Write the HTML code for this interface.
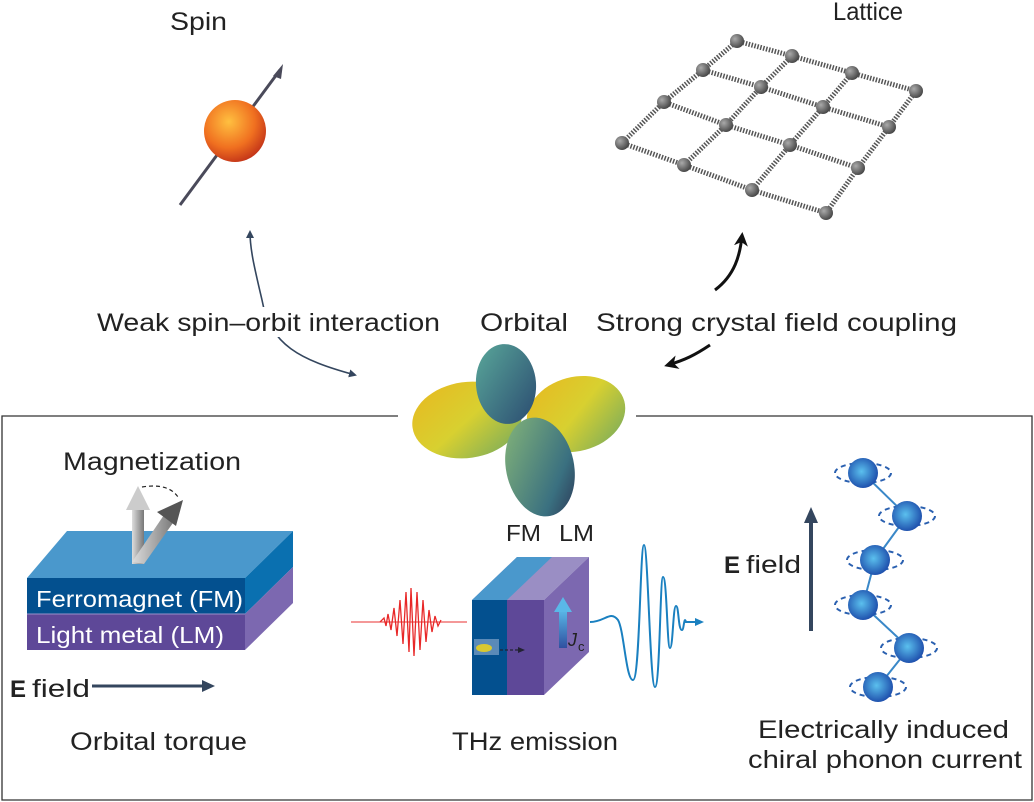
<!DOCTYPE html>
<html><head><meta charset="utf-8"><style>
html,body{margin:0;padding:0;background:#fff;}
svg{display:block;}
text{font-family:"Liberation Sans",sans-serif;fill:#222;}
</style></head><body>
<svg width="1034" height="802" viewBox="0 0 1034 802" xmlns="http://www.w3.org/2000/svg">
<defs>
<radialGradient id="sph" cx="0.4" cy="0.35" r="0.7"><stop offset="0" stop-color="#ffc040"/><stop offset="0.6" stop-color="#f07020"/><stop offset="1" stop-color="#c03018"/></radialGradient>
<radialGradient id="gb" cx="0.35" cy="0.35" r="0.7"><stop offset="0" stop-color="#aaa"/><stop offset="1" stop-color="#444"/></radialGradient>
<radialGradient id="bb" cx="0.45" cy="0.45" r="0.6"><stop offset="0" stop-color="#5bc0ee"/><stop offset="1" stop-color="#1a48a8"/></radialGradient>
<linearGradient id="ylob" x1="0" y1="0" x2="1" y2="1"><stop offset="0" stop-color="#e8b820"/><stop offset="0.5" stop-color="#d8d030"/><stop offset="1" stop-color="#70a860"/></linearGradient>
<linearGradient id="tlob" x1="0" y1="0" x2="1" y2="1"><stop offset="0" stop-color="#5aa89a"/><stop offset="1" stop-color="#2a4a70"/></linearGradient>
<linearGradient id="glob" x1="0" y1="0" x2="1" y2="1"><stop offset="0" stop-color="#88b878"/><stop offset="0.7" stop-color="#3a7080"/><stop offset="1" stop-color="#2a3050"/></linearGradient>
<linearGradient id="garr" x1="0" y1="0" x2="1" y2="0"><stop offset="0" stop-color="#ddd"/><stop offset="1" stop-color="#777"/></linearGradient>
<linearGradient id="jc" x1="0" y1="0" x2="0" y2="1"><stop offset="0" stop-color="#5ab8e8"/><stop offset="1" stop-color="#3050a0"/></linearGradient>
<marker id="ah" markerWidth="8" markerHeight="8" refX="6" refY="4" orient="auto-start-reverse" markerUnits="userSpaceOnUse"><path d="M0,0 L8,4 L0,8 Z" fill="#34465e"/></marker>
<marker id="ahb" markerWidth="14" markerHeight="14" refX="10" refY="7" orient="auto" markerUnits="userSpaceOnUse"><path d="M0,0 L14,7 L0,14 L4,7 Z" fill="#111"/></marker>
</defs>

<path d="M398,416 L2,416 L2,800 L1032,800 L1032,416 L636,416" fill="none" stroke="#333" stroke-width="1.3"/>

<!-- Spin -->
<text x="170" y="30" font-size="25" textLength="57" lengthAdjust="spacingAndGlyphs">Spin</text>
<line x1="180" y1="205" x2="280" y2="70" stroke="#4a4a5a" stroke-width="3"/>
<path d="M283,64 L273,76 L281,79 Z" fill="#4a4a5a"/>
<circle cx="235" cy="131" r="31" fill="url(#sph)"/>

<!-- Lattice -->
<text x="833" y="20" font-size="25" textLength="70" lengthAdjust="spacingAndGlyphs">Lattice</text>
<g stroke="#555" stroke-width="5" stroke-dasharray="1.5 1.5" fill="none">
<polyline points="737,41 792,56 852,73 916,91"/>
<polyline points="703,70 761,87 823,107 889,127"/>
<polyline points="664,102 726,125 790,145 858,168"/>
<polyline points="622,143 684,165 752,190 826,213"/>
<polyline points="737,41 703,70 664,102 622,143"/>
<polyline points="792,56 761,87 726,125 684,165"/>
<polyline points="852,73 823,107 790,145 752,190"/>
<polyline points="916,91 889,127 858,168 826,213"/>
</g>
<g fill="url(#gb)">
<circle cx="737" cy="41" r="7"/><circle cx="792" cy="56" r="7"/><circle cx="852" cy="73" r="7"/><circle cx="916" cy="91" r="7"/>
<circle cx="703" cy="70" r="7"/><circle cx="761" cy="87" r="7"/><circle cx="823" cy="107" r="7"/><circle cx="889" cy="127" r="7"/>
<circle cx="664" cy="102" r="7"/><circle cx="726" cy="125" r="7"/><circle cx="790" cy="145" r="7"/><circle cx="858" cy="168" r="7"/>
<circle cx="622" cy="143" r="7"/><circle cx="684" cy="165" r="7"/><circle cx="752" cy="190" r="7"/><circle cx="826" cy="213" r="7"/>
</g>

<path d="M355,375 C300,360 270,345 262,300 C255,270 250,250 250,232" fill="none" stroke="#34465e" stroke-width="1.6" marker-start="url(#ah)" marker-end="url(#ah)"/>
<rect x="95" y="307" width="350" height="30" fill="#fff"/>
<text x="97" y="331" font-size="25" textLength="343" lengthAdjust="spacingAndGlyphs">Weak spin–orbit interaction</text>
<text x="480" y="331" font-size="25" textLength="88" lengthAdjust="spacingAndGlyphs">Orbital</text>
<text x="596" y="331" font-size="25" textLength="361" lengthAdjust="spacingAndGlyphs">Strong crystal field coupling</text>

<path d="M715,290 C735,275 740,255 742,236" fill="none" stroke="#111" stroke-width="3" marker-end="url(#ahb)"/>
<path d="M710,345 C695,355 685,360 668,365" fill="none" stroke="#111" stroke-width="3" marker-end="url(#ahb)"/>

<!-- orbital -->
<ellipse cx="467" cy="420" rx="55" ry="38" transform="rotate(-8 467 420)" fill="url(#ylob)"/>
<ellipse cx="576" cy="414" rx="50" ry="37" transform="rotate(-15 576 414)" fill="url(#ylob)"/>
<ellipse cx="506" cy="384" rx="30" ry="40" transform="rotate(-5 506 384)" fill="url(#tlob)"/>
<ellipse cx="540" cy="467" rx="34" ry="50" transform="rotate(-12 540 467)" fill="url(#glob)"/>

<text x="506" y="541" font-size="23" textLength="35" lengthAdjust="spacingAndGlyphs">FM</text>
<text x="559" y="541" font-size="23" textLength="35" lengthAdjust="spacingAndGlyphs">LM</text>

<!-- Magnetization slab -->
<text x="63" y="470" font-size="25" textLength="178" lengthAdjust="spacingAndGlyphs">Magnetization</text>
<polygon points="27,578 67,531 293,531 245,578" fill="#4a98cc"/>
<polygon points="245,578 293,531 293,567 245,614" fill="#0a70b0"/>
<polygon points="245,614 293,567 293,603 245,650" fill="#7c68b0"/>
<rect x="27" y="578" width="218" height="36" fill="#03508f"/>
<rect x="27" y="614" width="218" height="36" fill="#5e4898"/>
<line x1="27" y1="614" x2="245" y2="614" stroke="#9a90c8" stroke-width="1"/>
<text x="36" y="607" font-size="23" style="fill:#fff" textLength="207" lengthAdjust="spacingAndGlyphs">Ferromagnet (FM)</text>
<text x="36" y="643" font-size="23" style="fill:#fff" textLength="188" lengthAdjust="spacingAndGlyphs">Light metal (LM)</text>
<rect x="132" y="508" width="12" height="56" fill="url(#garr)"/>
<polygon points="138,486 126,510 150,510" fill="#ccc"/>
<polygon points="132,562 144,564 175,520 166,512" fill="url(#garr)"/>
<polygon points="183,500 157,512 176,526" fill="#555"/>
<path d="M142,487 C160,484 172,488 178,497" fill="none" stroke="#222" stroke-width="1.2" stroke-dasharray="4 3"/>
<text x="10" y="697" font-size="24" font-weight="bold">E</text>
<text x="32" y="697" font-size="25" textLength="58" lengthAdjust="spacingAndGlyphs">field</text>
<line x1="92" y1="686" x2="205" y2="686" stroke="#34465e" stroke-width="3"/>
<polygon points="215,686 202,680 202,692" fill="#34465e"/>
<text x="70" y="750" font-size="25" textLength="177" lengthAdjust="spacingAndGlyphs">Orbital torque</text>

<!-- THz -->
<line x1="351" y1="622" x2="467" y2="622" stroke="#e83030" stroke-width="1"/>
<path d="M380,622 L384,618 L386,626 L388,614 L391,630 L394,608 L397,636 L400,600 L403,644 L406,592 L409,652 L411,588 L414,656 L417,592 L420,650 L423,600 L426,642 L429,610 L432,632 L435,616 L438,626 L441,620" fill="none" stroke="#e82828" stroke-width="1.3"/>
<polygon points="472,600 517,557 589,557 544,600" fill="#9a8ec4"/>
<polygon points="472,600 517,557 552,557 507,600" fill="#4a98cc"/>
<polygon points="544,600 589,557 589,652 544,695" fill="#7c68b0"/>
<rect x="472" y="600" width="35" height="95" fill="#03508f"/>
<rect x="507" y="600" width="37" height="95" fill="#5e4898"/>
<rect x="474" y="639" width="25" height="16" fill="#5a8ab8"/>
<ellipse cx="484" cy="648" rx="8" ry="4" fill="#d8c830"/>
<line x1="500" y1="650" x2="520" y2="650" stroke="#223" stroke-width="1.2" stroke-dasharray="3 2"/>
<polygon points="525,650 518,647 518,653" fill="#223"/>
<rect x="559" y="610" width="8" height="38" fill="url(#jc)"/>
<polygon points="563,597 554,612 572,612" fill="#5ab8e8"/>
<text x="568" y="646" font-size="18" font-style="italic">J</text>
<text x="578" y="651" font-size="13">c</text>
<path d="M590,622 C605,622 610,610 618,620 C624,630 626,680 633,680 C640,680 640,545 644,545 C648,545 650,687 655,687 C660,687 660,577 663,577 C667,577 667,648 670,648 C673,648 673,606 676,606 C679,606 678,630 682,630 C684,630 684,615 686,622 L700,622" fill="none" stroke="#1a80c0" stroke-width="2"/>
<polygon points="704,622 695,618 695,626" fill="#1a80c0"/>
<text x="452" y="750" font-size="25" textLength="166" lengthAdjust="spacingAndGlyphs">THz emission</text>

<!-- chiral phonon -->
<text x="724" y="573" font-size="24" font-weight="bold">E</text>
<text x="746" y="573" font-size="25" textLength="55" lengthAdjust="spacingAndGlyphs">field</text>
<line x1="811" y1="631" x2="811" y2="520" stroke="#34465e" stroke-width="4"/>
<polygon points="811,507 804,523 818,523" fill="#34465e"/>
<polyline points="863,473 907,516 875,560 863,605 909,648 878,687" fill="none" stroke="#3a88c8" stroke-width="2"/>
<g fill="none" stroke="#2a60b0" stroke-width="2" stroke-dasharray="5 4">
<ellipse cx="863" cy="473" rx="28" ry="10"/><ellipse cx="907" cy="516" rx="28" ry="10"/>
<ellipse cx="875" cy="560" rx="28" ry="10"/><ellipse cx="863" cy="605" rx="28" ry="10"/>
<ellipse cx="909" cy="648" rx="28" ry="10"/><ellipse cx="878" cy="687" rx="28" ry="10"/>
</g>
<g fill="url(#bb)">
<circle cx="863" cy="473" r="15"/><circle cx="907" cy="516" r="15"/><circle cx="875" cy="560" r="15"/>
<circle cx="863" cy="605" r="15"/><circle cx="909" cy="648" r="15"/><circle cx="878" cy="687" r="15"/>
</g>
<text x="758" y="738" font-size="25" textLength="251" lengthAdjust="spacingAndGlyphs">Electrically induced</text>
<text x="748" y="768" font-size="25" textLength="274" lengthAdjust="spacingAndGlyphs">chiral phonon current</text>
</svg>
</body></html>
